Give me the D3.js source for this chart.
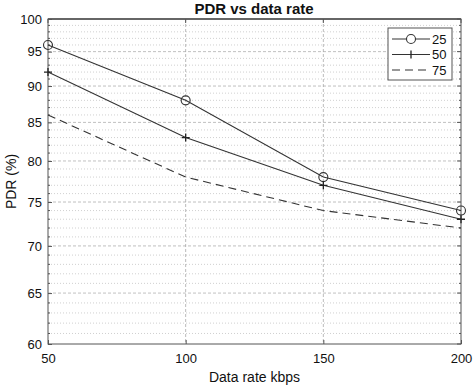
<!DOCTYPE html>
<meta charset="utf-8">
<script src="https://cdn.jsdelivr.net/npm/d3@7"></script>
<style>
    body { margin: 0; background: #fff; }
    text { font-family: "Liberation Sans", Arial, sans-serif; fill: #111; }
</style>
<div id="my_dataviz"></div>
<script>
    const rates = [50, 100, 150, 200];
    const pdr25 = [96, 88, 78, 74];
    const pdr50 = [92, 83, 77, 73];
    const pdr75 = [86, 78, 74, 72];
    const yTicks = [60, 65, 70, 75, 80, 85, 90, 95, 100];
    const xTicks = [50, 100, 150, 200];

    let margin = {top: 19, right: 13, bottom: 43, left: 48},
        width = 474 - margin.left - margin.right,
        height = 387 - margin.top - margin.bottom;

    let svg = d3.select("#my_dataviz").append("svg")
        .attr("width", 474)
        .attr("height", 387);

    let g = svg.append("g")
        .attr("transform", `translate(${margin.left},${margin.top})`);

    let xScale = d3.scaleLinear().domain([50, 200]).range([0, width]);
    let yScale = d3.scaleLog().domain([60, 100]).range([height, 0]);

    // minor grid, every 1 %
    let minor = d3.range(61, 100).filter(v => v % 5 !== 0);
    g.selectAll(".minor").data(minor).enter().append("line")
        .attr("x1", 0).attr("x2", width)
        .attr("y1", d => yScale(d)).attr("y2", d => yScale(d))
        .attr("stroke", "#c4c4c4").attr("stroke-width", 0.8)
        .attr("stroke-dasharray", "1,2");

    // major grid
    g.selectAll(".gy").data(yTicks.slice(1, -1)).enter().append("line")
        .attr("x1", 0).attr("x2", width)
        .attr("y1", d => yScale(d)).attr("y2", d => yScale(d))
        .attr("stroke", "#b0b0b0").attr("stroke-width", 0.8)
        .attr("stroke-dasharray", "3,2");
    g.selectAll(".gx").data(xTicks.slice(1, -1)).enter().append("line")
        .attr("x1", d => xScale(d)).attr("x2", d => xScale(d))
        .attr("y1", 0).attr("y2", height)
        .attr("stroke", "#aaa").attr("stroke-width", 0.8)
        .attr("stroke-dasharray", "3,2");

    // frame
    g.append("rect").attr("width", width).attr("height", height)
        .attr("fill", "none").attr("stroke", "#555").attr("stroke-width", 1);
    g.append("line").attr("x1", 0).attr("x2", width).attr("y1", 0).attr("y2", 0)
        .attr("stroke", "#666").attr("stroke-width", 2);

    // axes
    let xAxis = d3.axisBottom(xScale).tickValues(xTicks).tickSize(-4).tickPadding(10);
    let yAxis = d3.axisLeft(yScale).tickValues(yTicks).tickFormat(d3.format("d")).tickSize(-4).tickPadding(6);
    let xg = g.append("g").attr("transform", `translate(0,${height})`).call(xAxis);
    let yg = g.append("g").call(yAxis);
    [xg, yg].forEach(a => {
        a.select(".domain").remove();
        a.selectAll("line").attr("stroke", "#555");
        a.selectAll("text").style("font-size", "13px")
            .style("font-family", "'Liberation Sans', Arial, sans-serif").attr("fill", "#111");
    });
    // small inward ticks on top and right
    g.selectAll(".tt").data(xTicks).enter().append("line")
        .attr("x1", d => xScale(d)).attr("x2", d => xScale(d))
        .attr("y1", 0).attr("y2", 4).attr("stroke", "#555");
    g.selectAll(".tr").data(d3.range(60, 101)).enter().append("line")
        .attr("x1", width).attr("x2", d => width - (d % 5 === 0 ? 4 : 2))
        .attr("y1", d => yScale(d)).attr("y2", d => yScale(d)).attr("stroke", "#555");
    g.selectAll(".tl").data(d3.range(61, 100).filter(v => v % 5 !== 0)).enter().append("line")
        .attr("x1", 0).attr("x2", 2)
        .attr("y1", d => yScale(d)).attr("y2", d => yScale(d)).attr("stroke", "#555");

    // lines
    let line = d3.line().x((d, i) => xScale(rates[i])).y(d => yScale(d));
    g.append("path").datum(pdr25).attr("d", line)
        .attr("fill", "none").attr("stroke", "#333").attr("stroke-width", 1.1);
    g.append("path").datum(pdr50).attr("d", line)
        .attr("fill", "none").attr("stroke", "#333").attr("stroke-width", 1.1);
    g.append("path").datum(pdr75).attr("d", line)
        .attr("fill", "none").attr("stroke", "#333").attr("stroke-width", 1.1)
        .attr("stroke-dasharray", "8,5");

    g.selectAll(".c25").data(pdr25).enter().append("circle")
        .attr("cx", (d, i) => xScale(rates[i])).attr("cy", d => yScale(d))
        .attr("r", 4.5).attr("fill", "none").attr("stroke", "#333").attr("stroke-width", 1.1);
    g.selectAll(".p50").data(pdr50).enter().append("path")
        .attr("transform", (d, i) => `translate(${xScale(rates[i])},${yScale(d)})`)
        .attr("d", "M-4,0H4M0,-4V4").attr("stroke", "#222").attr("stroke-width", 1.3);

    // legend
    let lg = svg.append("g").attr("transform", "translate(388,28)");
    lg.append("rect").attr("width", 64).attr("height", 52)
        .attr("fill", "#fff").attr("stroke", "#555").attr("stroke-width", 1);
    let names = ["25", "50", "75"];
    names.forEach((n, i) => {
        let yy = 11 + i * 15.5;
        lg.append("line").attr("x1", 4).attr("x2", 42).attr("y1", yy).attr("y2", yy)
            .attr("stroke", "#333").attr("stroke-width", 1.1)
            .attr("stroke-dasharray", i === 2 ? "8,5" : null);
        if (i === 0) lg.append("circle").attr("cx", 23).attr("cy", yy).attr("r", 4.5)
            .attr("fill", "#fff").attr("stroke", "#333").attr("stroke-width", 1.1);
        if (i === 1) lg.append("path").attr("d", `M23,${yy - 4}V${yy + 4}`)
            .attr("stroke", "#222").attr("stroke-width", 1.3);
        lg.append("text").attr("x", 44).attr("y", yy + 4.5).style("font-size", "13px").text(n);
    });

    // labels
    svg.append("text").attr("x", 254).attr("y", 14).attr("text-anchor", "middle")
        .style("font-size", "15px").style("font-weight", "bold").text("PDR vs data rate");
    svg.append("text").attr("x", margin.left + width / 2).attr("y", 382).attr("text-anchor", "middle")
        .style("font-size", "14px").text("Data rate kbps");
    svg.append("text").attr("transform", `translate(16,${margin.top + height / 2}) rotate(-90)`)
        .attr("text-anchor", "middle").style("font-size", "14px").text("PDR (%)");
</script>
